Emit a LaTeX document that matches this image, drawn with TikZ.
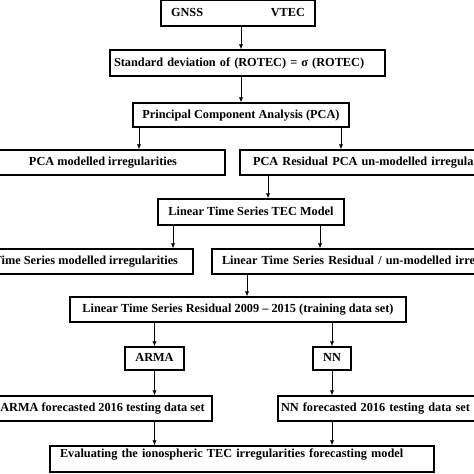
\documentclass[tikz,border=0pt]{standalone}
\usepackage{fontspec}
\setmainfont{Liberation Serif}
\usetikzlibrary{arrows.meta}
\tikzset{
  blk/.style={draw, line width=1.5pt, inner ysep=0pt, inner xsep=4pt,
    text height=9pt, text depth=3pt,
    font=\fontsize{12.3}{14}\selectfont\bfseries},
  arr/.style={-{Latex[length=5pt,width=4.5pt]}, line width=0.9pt}
}
\begin{document}
\begin{tikzpicture}[x=1pt, y=-1pt]
\useasboundingbox (0,0) rectangle (474,474);
\clip (0,0) rectangle (474,474);

% boxes
\node[blk, minimum width=154pt, minimum height=25.5pt, inner xsep=10pt, text width=134pt, align=left] (gnss) at (238,13.25) {GNSS\hfill VTEC};
\node[blk, minimum width=275pt, minimum height=26pt, text width=267pt, align=left] (std) at (247.5,63) {Standard deviation of (ROTEC) = σ (ROTEC)};
\node[blk, minimum width=216pt, minimum height=24pt] (pca) at (241,115) {Principal Component Analysis (PCA)};
\node[blk, minimum width=244pt, minimum height=25pt] (pcamod) at (103,162.5) {PCA modelled irregularities};
\node[blk, minimum width=280pt, minimum height=25pt, inner xsep=13pt, text width=254pt, align=left] (pcares) at (380,162.5) {PCA Residual PCA un-modelled irregularities};
\node[blk, minimum width=186pt, minimum height=26pt] (lts) at (251,212) {Linear Time Series TEC Model};
\node[blk, minimum width=253pt, minimum height=25pt] (ltsmod) at (66.5,261.5) {Linear Time Series modelled irregularities};
\node[blk, minimum width=328pt, minimum height=25pt, inner xsep=10pt, text width=308pt, align=left] (ltsres) at (376,261.5) {Linear Time Series Residual / un-modelled irregularities};
\node[blk, minimum width=336pt, minimum height=25pt] (resid) at (238,309.5) {Linear Time Series Residual 2009 -- 2015 (training data set)};
\node[blk, minimum width=59pt, minimum height=23pt] (arma) at (154.5,358.5) {ARMA};
\node[blk, minimum width=38pt, minimum height=23pt] (nn) at (332,358.5) {NN};
\node[blk, minimum width=219pt, minimum height=25pt] (armaf) at (102.5,408.5) {ARMA forecasted 2016 testing data set};
\node[blk, minimum width=212pt, minimum height=25pt, inner xsep=3pt, text width=206pt, align=left] (nnf) at (384,408.5) {NN forecasted 2016 testing data set};
\node[blk, minimum width=384pt, minimum height=26pt, inner xsep=10pt, inner ysep=2pt, text width=364pt, text height=9pt, text depth=13pt, align=left] (final) at (242,459) {Evaluating the ionospheric TEC irregularities forecasting model};

% arrows
\draw[arr] (241,0 |- gnss.south) -- (241,0 |- std.north);
\draw[arr] (pca |- std.south) -- (pca.north);
\draw[arr] (139,0 |- pca.south) -- (139,0 |- pcamod.north);
\draw[arr] (341,0 |- pca.south) -- (341,0 |- pcares.north);
\draw[arr] (268,0 |- pcares.south) -- (268,0 |- lts.north);
\draw[arr] (173,0 |- lts.south) -- (173,0 |- ltsmod.north);
\draw[arr] (320,0 |- lts.south) -- (320,0 |- ltsres.north);
\draw[arr] (247,0 |- ltsres.south) -- (247,0 |- resid.north);
\draw[arr] (arma |- resid.south) -- (arma.north);
\draw[arr] (nn |- resid.south) -- (nn.north);
\draw[arr] (arma.south) -- (arma |- armaf.north);
\draw[arr] (nn.south) -- (nn |- nnf.north);
\draw[arr] (arma |- armaf.south) -- (arma |- final.north);
\draw[arr] (nn |- nnf.south) -- (nn |- final.north);
\end{tikzpicture}
\end{document}
